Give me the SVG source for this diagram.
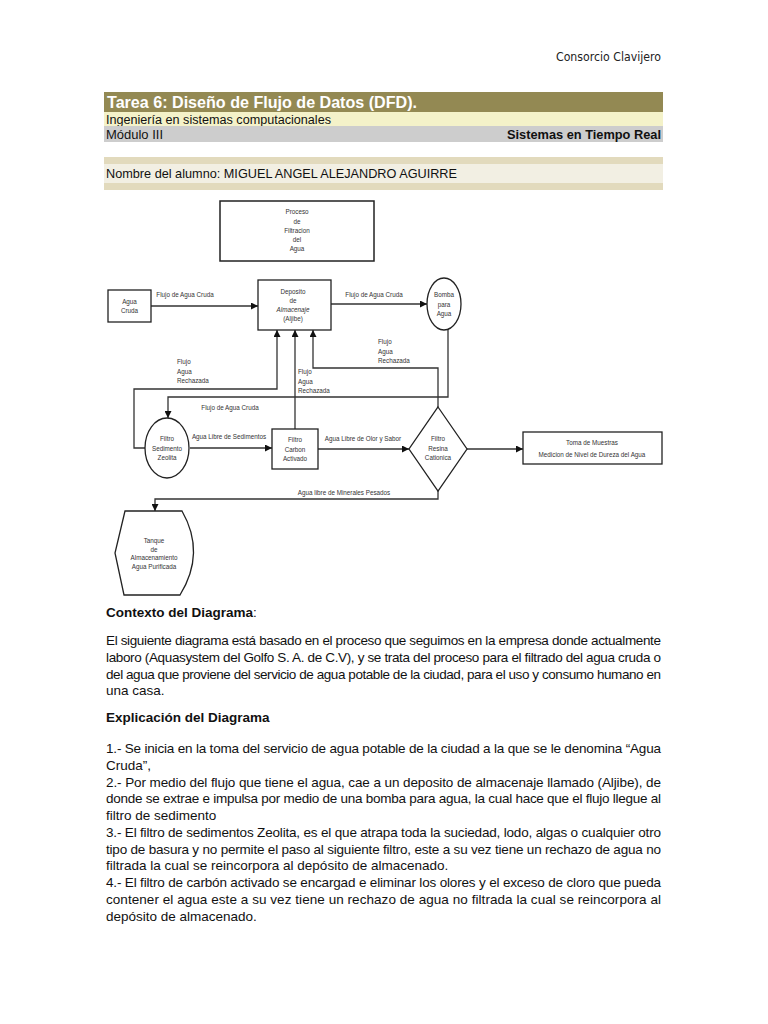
<svg xmlns="http://www.w3.org/2000/svg" width="768" height="1024" viewBox="0 0 768 1024">
<style>
.hdr{font-family:"Liberation Sans",Arial,sans-serif;fill:#111}
.body{font-family:"Liberation Sans",Arial,sans-serif;font-size:13.5px;fill:#111}
.bold{font-weight:bold}
.dt{font-family:"Liberation Sans",Arial,sans-serif;font-size:6.3px;fill:#333;text-anchor:middle}
.shape{fill:#fff;stroke:#222;stroke-width:1.3}
.conn{fill:none;stroke:#333;stroke-width:1.3}
</style>
<defs>
<marker id="arr" viewBox="0 0 10 10" refX="10" refY="5" markerWidth="7" markerHeight="7" orient="auto" markerUnits="userSpaceOnUse">
<path d="M0,0 L10,5 L0,10 Z" fill="#111"/>
</marker>
</defs>
<rect width="768" height="1024" fill="#fff"/>

<!-- page header -->
<text x="661" y="61" text-anchor="end" font-family="DejaVu Sans, sans-serif" font-size="11.5" fill="#222" textLength="105" lengthAdjust="spacingAndGlyphs">Consorcio Clavijero</text>

<rect x="104" y="92" width="559" height="20" fill="#938953"/>
<text x="107" y="108" class="hdr bold" font-size="16" fill="#fff" style="fill:#fff" textLength="310" lengthAdjust="spacingAndGlyphs">Tarea 6: Diseño de Flujo de Datos (DFD).</text>
<rect x="104" y="112" width="559" height="14" fill="#f4f2c9"/>
<text x="106" y="123.5" class="hdr" font-size="12.5" textLength="225" lengthAdjust="spacingAndGlyphs">Ingeniería en sistemas computacionales</text>
<rect x="104" y="126" width="559" height="16" fill="#cdcdcd"/>
<text x="106" y="138.5" class="hdr" font-size="12.5" textLength="57" lengthAdjust="spacingAndGlyphs">Módulo III</text>
<text x="661" y="138.5" class="hdr bold" font-size="12.5" text-anchor="end" textLength="154" lengthAdjust="spacingAndGlyphs">Sistemas en Tiempo Real</text>

<rect x="104" y="157" width="559" height="33" fill="#e2dabd"/>
<rect x="104" y="164" width="559" height="19" fill="#f2efe3"/>
<text x="106" y="178" class="hdr" font-size="13" textLength="351" lengthAdjust="spacingAndGlyphs">Nombre del alumno: MIGUEL ANGEL ALEJANDRO AGUIRRE</text>

<!-- connectors -->
<g id="connectors">
<path class="conn" d="M151,306 H258" marker-end="url(#arr)"/>
<text class="dt" x="185" y="296.5">Flujo de Agua Cruda</text>
<path class="conn" d="M331,304 H427" marker-end="url(#arr)"/>
<text class="dt" x="374" y="296.5">Flujo de Agua Cruda</text>
<path class="conn" d="M448,329 V397 H168 V418" marker-end="url(#arr)"/>
<text class="dt" x="230" y="410">Flujo de Agua Cruda</text>
<path class="conn" d="M145,448 H134 V389 H277 V330" marker-end="url(#arr)"/>
<text class="dt" x="177" y="364" text-anchor="start" style="text-anchor:start">Flujo</text>
<text class="dt" x="177" y="373.5" style="text-anchor:start">Agua</text>
<text class="dt" x="177" y="383" style="text-anchor:start">Rechazada</text>
<path class="conn" d="M295,429 V330" marker-end="url(#arr)"/>
<text class="dt" x="298" y="374" style="text-anchor:start">Flujo</text>
<text class="dt" x="298" y="383.5" style="text-anchor:start">Agua</text>
<text class="dt" x="298" y="393" style="text-anchor:start">Rechazada</text>
<path class="conn" d="M438,407 V368 H313 V330" marker-end="url(#arr)"/>
<text class="dt" x="378" y="344" style="text-anchor:start">Flujo</text>
<text class="dt" x="378" y="353.5" style="text-anchor:start">Agua</text>
<text class="dt" x="378" y="363" style="text-anchor:start">Rechazada</text>
<path class="conn" d="M190,448 H272" marker-end="url(#arr)"/>
<text class="dt" x="229" y="439">Agua Libre de Sedimentos</text>
<path class="conn" d="M318,449 H409" marker-end="url(#arr)"/>
<text class="dt" x="363" y="441">Agua Libre de Olor y Sabor</text>
<path class="conn" d="M467,449 H523" marker-end="url(#arr)"/>
<path class="conn" d="M438,491 V499 H155 V511" marker-end="url(#arr)"/>
<text class="dt" x="344" y="494.5">Agua libre de Minerales Pesados</text>
</g>

<!-- nodes -->
<g id="proceso">
<rect class="shape" x="220" y="201" width="154" height="60" style="stroke-width:1.5"/>
<text class="dt" x="297" y="214">Proceso</text>
<text class="dt" x="297" y="223.5">de</text>
<text class="dt" x="297" y="233">Filtracion</text>
<text class="dt" x="297" y="242">del</text>
<text class="dt" x="297" y="251">Agua</text>
</g>
<g id="agua-cruda">
<rect class="shape" x="108" y="290" width="43" height="32"/>
<text class="dt" x="129.5" y="303.5">Agua</text>
<text class="dt" x="129.5" y="312.5">Cruda</text>
</g>
<g id="deposito">
<rect class="shape" x="258" y="280" width="73" height="50"/>
<text class="dt" x="293" y="294">Deposito</text>
<text class="dt" x="293" y="302.5">de</text>
<text class="dt" x="293" y="311.5" font-style="italic">Almacenaje</text>
<text class="dt" x="293" y="320.5">(Aljibe)</text>
</g>
<g id="bomba">
<ellipse class="shape" cx="444" cy="304" rx="17" ry="26"/>
<text class="dt" x="444" y="297">Bomba</text>
<text class="dt" x="444" y="306.5">para</text>
<text class="dt" x="444" y="315.5">Agua</text>
</g>
<g id="filtro-sedimento">
<ellipse class="shape" cx="167" cy="448" rx="22" ry="30"/>
<text class="dt" x="167" y="441">Filtro</text>
<text class="dt" x="167" y="450.5">Sedimento</text>
<text class="dt" x="167" y="460">Zeolita</text>
</g>
<g id="filtro-carbon">
<rect class="shape" x="272" y="429" width="46" height="40"/>
<text class="dt" x="295" y="442">Filtro</text>
<text class="dt" x="295" y="451.5">Carbon</text>
<text class="dt" x="295" y="461">Activado</text>
</g>
<g id="filtro-resina">
<path class="shape" d="M438,407 L467,449 L438,491 L409,449 Z"/>
<text class="dt" x="438" y="441">Filtro</text>
<text class="dt" x="438" y="450.5">Resina</text>
<text class="dt" x="438" y="460">Cationica</text>
</g>
<g id="toma-muestras">
<rect class="shape" x="523" y="432" width="139" height="32"/>
<text class="dt" x="592" y="445">Toma de Muestras</text>
<text class="dt" x="592" y="457">Medicion de Nivel de Dureza del Agua</text>
</g>
<g id="tanque">
<path class="shape" d="M125,511 H182 Q206,553 180,595 H124 L115,553 Z"/>
<text class="dt" x="154" y="543">Tanque</text>
<text class="dt" x="154" y="551.5">de</text>
<text class="dt" x="154" y="560">Almacenamiento</text>
<text class="dt" x="154" y="568.5">Agua Purificada</text>
</g>

<!-- body text -->
<text class="body" x="106" y="617"><tspan class="bold">Contexto del Diagrama</tspan>:</text>
<text class="body" x="106" y="645" textLength="555" lengthAdjust="spacing">El siguiente diagrama está basado en el proceso que seguimos en la empresa donde actualmente</text>
<text class="body" x="106" y="662" textLength="555" lengthAdjust="spacing">laboro (Aquasystem del Golfo S. A. de C.V), y se trata del proceso para el filtrado del agua cruda o</text>
<text class="body" x="106" y="679" textLength="555" lengthAdjust="spacing">del agua que proviene del servicio de agua potable de la ciudad, para el uso y consumo humano en</text>
<text class="body" x="106" y="695">una casa.</text>
<text class="body bold" x="106" y="722">Explicación del Diagrama</text>
<text class="body" x="106" y="753" textLength="555" lengthAdjust="spacing">1.- Se inicia en la toma del servicio de agua potable de la ciudad a la que se le denomina “Agua</text>
<text class="body" x="106" y="770">Cruda”,</text>
<text class="body" x="106" y="787" textLength="555" lengthAdjust="spacing">2.- Por medio del flujo que tiene el agua, cae a un deposito de almacenaje llamado (Aljibe), de</text>
<text class="body" x="106" y="803" textLength="555" lengthAdjust="spacing">donde se extrae e impulsa por medio de una bomba para agua, la cual hace que el flujo llegue al</text>
<text class="body" x="106" y="820">filtro de sedimento</text>
<text class="body" x="106" y="837" textLength="555" lengthAdjust="spacing">3.- El filtro de sedimentos Zeolita, es el que atrapa toda la suciedad, lodo, algas o cualquier otro</text>
<text class="body" x="106" y="854" textLength="555" lengthAdjust="spacing">tipo de basura y no permite el paso al siguiente filtro, este a su vez tiene un rechazo de agua no</text>
<text class="body" x="106" y="870">filtrada la cual se reincorpora al depósito de almacenado.</text>
<text class="body" x="106" y="887" textLength="555" lengthAdjust="spacing">4.- El filtro de carbón activado se encargad e eliminar los olores y el exceso de cloro que pueda</text>
<text class="body" x="106" y="904" textLength="555" lengthAdjust="spacing">contener el agua este a su vez tiene un rechazo de agua no filtrada la cual se reincorpora al</text>
<text class="body" x="106" y="921">depósito de almacenado.</text>
</svg>
